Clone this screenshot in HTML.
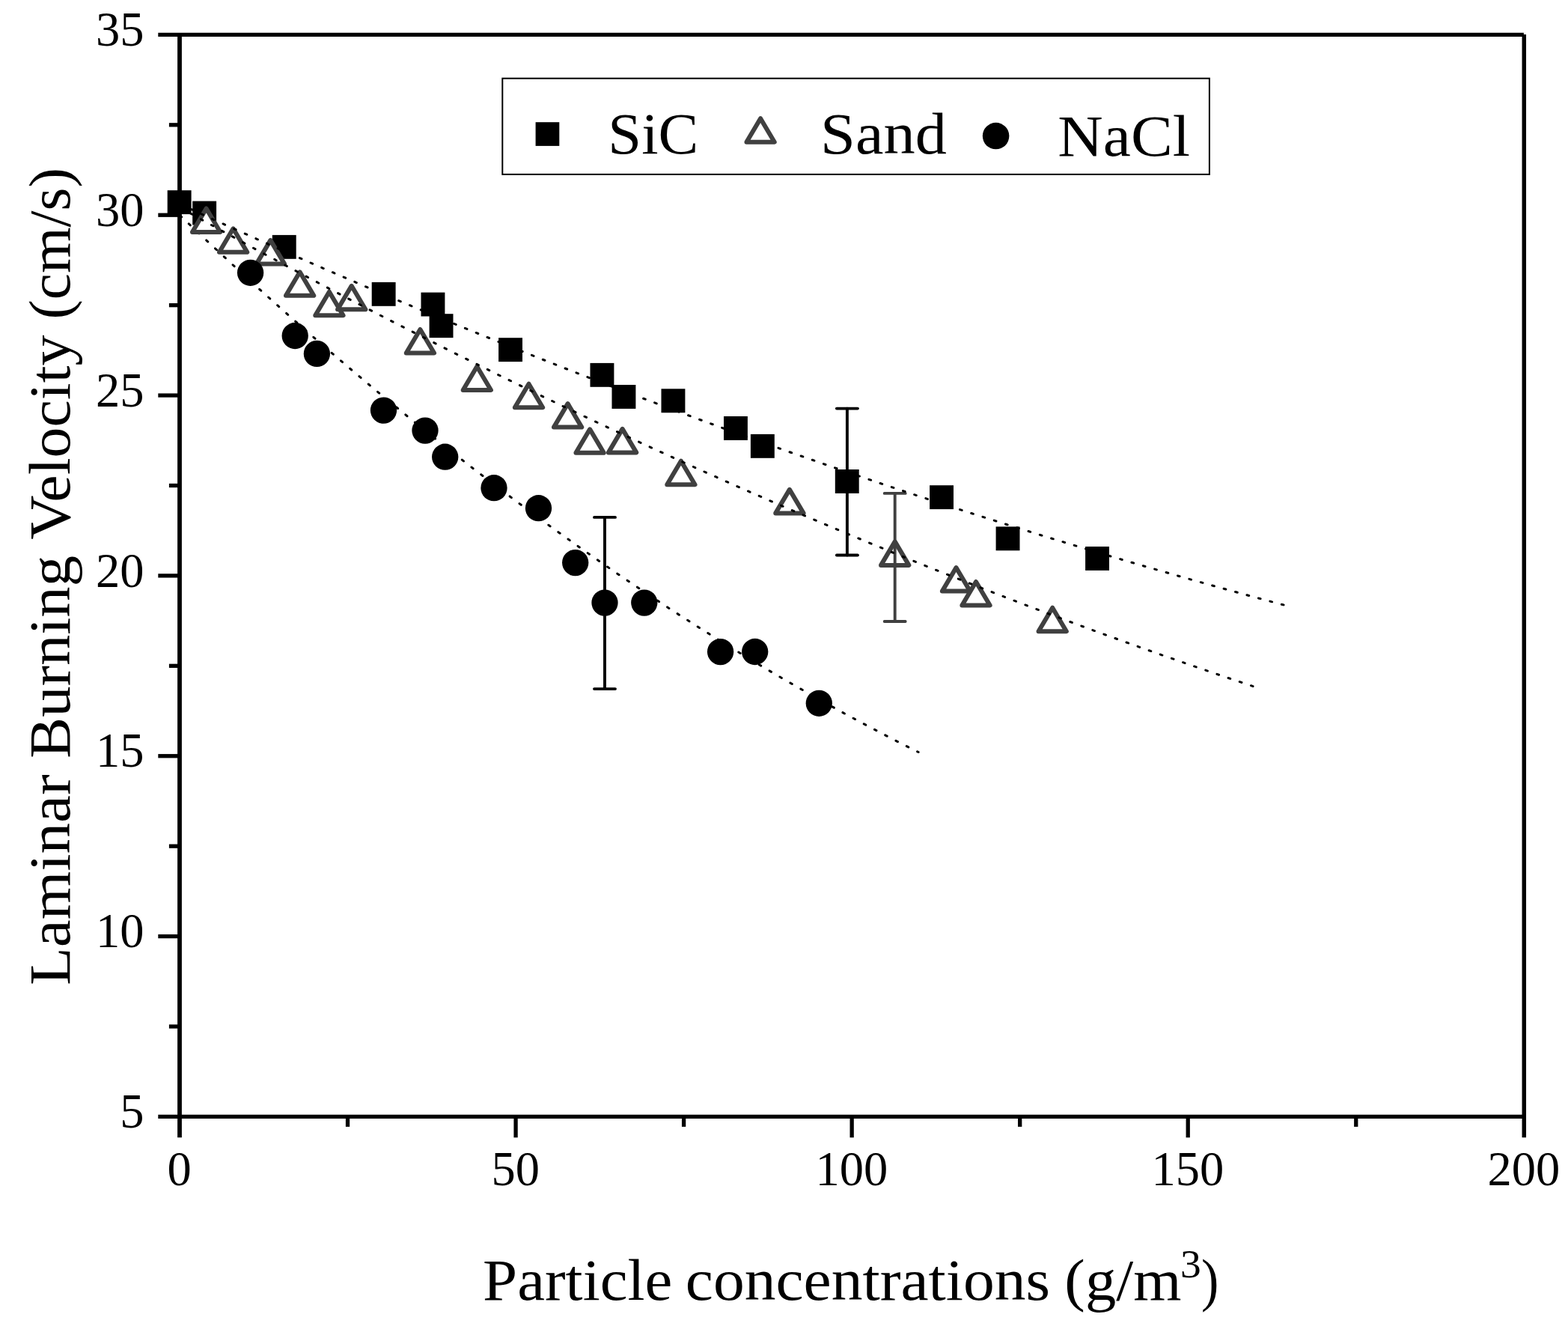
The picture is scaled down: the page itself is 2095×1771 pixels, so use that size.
<!DOCTYPE html>
<html lang="en"><head><meta charset="utf-8"><title>Laminar Burning Velocity vs Particle concentrations</title>
<style>html,body{margin:0;padding:0;background:#fff;}body{width:2095px;height:1771px;overflow:hidden;}svg{display:block;}text{font-family:"Liberation Serif","DejaVu Serif",serif;fill:#000;}</style></head><body>
<svg width="2095" height="1771" viewBox="0 0 2095 1771">
<rect width="2095" height="1771" fill="#fff"/>
<g stroke="#000" stroke-width="5.30" fill="none" stroke-linecap="butt">
<line x1="211.3" y1="46.4" x2="2035.9" y2="46.4"/>
<line x1="211.3" y1="1491.4" x2="2036.3" y2="1491.4"/>
<line x1="240.0" y1="46.4" x2="240.0" y2="1519.3" stroke-width="5.8"/>
<line x1="2036.3" y1="46.1" x2="2036.3" y2="1519.3" stroke-width="5.5"/>
<line x1="225.9" y1="1370.98" x2="240.0" y2="1370.98"/>
<line x1="211.3" y1="1250.57" x2="240.0" y2="1250.57"/>
<line x1="225.9" y1="1130.15" x2="240.0" y2="1130.15"/>
<line x1="211.3" y1="1009.73" x2="240.0" y2="1009.73"/>
<line x1="225.9" y1="889.32" x2="240.0" y2="889.32"/>
<line x1="211.3" y1="768.90" x2="240.0" y2="768.90"/>
<line x1="225.9" y1="648.48" x2="240.0" y2="648.48"/>
<line x1="211.3" y1="528.07" x2="240.0" y2="528.07"/>
<line x1="225.9" y1="407.65" x2="240.0" y2="407.65"/>
<line x1="211.3" y1="287.23" x2="240.0" y2="287.23"/>
<line x1="225.9" y1="166.82" x2="240.0" y2="166.82"/>
<line x1="464.54" y1="1491.4" x2="464.54" y2="1504.9"/>
<line x1="689.08" y1="1491.4" x2="689.08" y2="1519.3"/>
<line x1="913.61" y1="1491.4" x2="913.61" y2="1504.9"/>
<line x1="1138.15" y1="1491.4" x2="1138.15" y2="1519.3"/>
<line x1="1362.69" y1="1491.4" x2="1362.69" y2="1504.9"/>
<line x1="1587.23" y1="1491.4" x2="1587.23" y2="1519.3"/>
<line x1="1811.76" y1="1491.4" x2="1811.76" y2="1504.9"/>
</g>
<g font-size="64.5px">
<text x="192.4" y="1506.0" text-anchor="end">5</text>
<text x="192.4" y="1265.2" text-anchor="end">10</text>
<text x="192.4" y="1024.3" text-anchor="end">15</text>
<text x="192.4" y="783.5" text-anchor="end">20</text>
<text x="192.4" y="542.7" text-anchor="end">25</text>
<text x="192.4" y="301.8" text-anchor="end">30</text>
<text x="192.4" y="61.0" text-anchor="end">35</text>
<text x="239.6" y="1582.7" text-anchor="middle">0</text>
<text x="688.7" y="1582.7" text-anchor="middle">50</text>
<text x="1137.8" y="1582.7" text-anchor="middle">100</text>
<text x="1586.8" y="1582.7" text-anchor="middle">150</text>
<text x="2035.9" y="1582.7" text-anchor="middle">200</text>
</g>
<rect x="671.3" y="104.7" width="944.6" height="128.2" fill="#fff" stroke="#000" stroke-width="2"/>
<g fill="none" stroke="#000" stroke-width="3" stroke-linecap="round"><polyline points="240.0,287.2 246.2,293.1 252.4,299.0 258.6,304.8 264.8,310.7 271.0,316.5 277.2,322.3 283.5,328.1 289.7,333.9 295.9,339.7 302.1,345.4 308.3,351.2 314.5,356.9 320.7,362.6 326.9,368.3 333.1,373.9 339.3,379.6 345.5,385.2 351.7,390.8 358.0,396.4 364.2,402.0 370.4,407.5 376.6,413.1 382.8,418.6 389.0,424.1 395.2,429.6 401.4,435.0 407.6,440.5 413.8,445.9 420.0,451.3 426.2,456.7 432.4,462.1 438.7,467.5 444.9,472.8 451.1,478.1 457.3,483.4 463.5,488.7 469.7,494.0 475.9,499.2 482.1,504.5 488.3,509.7 494.5,514.9 500.7,520.1 506.9,525.2 513.2,530.4 519.4,535.5 525.6,540.6 531.8,545.7 538.0,550.8 544.2,555.9 550.4,560.9 556.6,565.9 562.8,570.9 569.0,575.9 575.2,580.9 581.4,585.9 587.6,590.8 593.9,595.7 600.1,600.6 606.3,605.5 612.5,610.4 618.7,615.2 624.9,620.0 631.1,624.9 637.3,629.6 643.5,634.4 649.7,639.2 655.9,643.9 662.1,648.6 668.3,653.4 674.6,658.0 680.8,662.7 687.0,667.4 693.2,672.0 699.4,676.6 705.6,681.2 711.8,685.8 718.0,690.4 724.2,694.9 730.4,699.4 736.6,704.0 742.8,708.5 749.1,712.9 755.3,717.4 761.5,721.8 767.7,726.2 773.9,730.7 780.1,735.0 786.3,739.4 792.5,743.8 798.7,748.1 804.9,752.4 811.1,756.7 817.3,761.0 823.5,765.3 829.8,769.5 836.0,773.7 842.2,778.0 848.4,782.1 854.6,786.3 860.8,790.5 867.0,794.6 873.2,798.7 879.4,802.8 885.6,806.9 891.8,811.0 898.0,815.1 904.3,819.1 910.5,823.1 916.7,827.1 922.9,831.1 929.1,835.1 935.3,839.0 941.5,842.9 947.7,846.8 953.9,850.7 960.1,854.6 966.3,858.5 972.5,862.3 978.7,866.1 985.0,869.9 991.2,873.7 997.4,877.5 1003.6,881.2 1009.8,885.0 1016.0,888.7 1022.2,892.4 1028.4,896.1 1034.6,899.7 1040.8,903.4 1047.0,907.0 1053.2,910.6 1059.5,914.2 1065.7,917.8 1071.9,921.3 1078.1,924.9 1084.3,928.4 1090.5,931.9 1096.7,935.4 1102.9,938.9 1109.1,942.3 1115.3,945.7 1121.5,949.2 1127.7,952.6 1133.9,955.9 1140.2,959.3 1146.4,962.6 1152.6,966.0 1158.8,969.3 1165.0,972.6 1171.2,975.8 1177.4,979.1 1183.6,982.3 1189.8,985.6 1196.0,988.8 1202.2,992.0 1208.4,995.1 1214.7,998.3 1220.9,1001.4 1227.1,1004.5" stroke-dasharray="2.8 13.282" stroke-dashoffset="15.22"/></g>
<g fill="#000"><rect x="223.7" y="254.2" width="31.9" height="31.9"/><rect x="257.2" y="268.6" width="31.9" height="31.9"/><rect x="363.8" y="313.9" width="31.9" height="31.9"/><rect x="496.7" y="376.9" width="31.9" height="31.9"/><rect x="562.5" y="390.6" width="31.9" height="31.9"/><rect x="573.6" y="419.2" width="31.9" height="31.9"/><rect x="666.1" y="451.2" width="31.9" height="31.9"/><rect x="788.5" y="484.9" width="31.9" height="31.9"/><rect x="817.5" y="514.0" width="31.9" height="31.9"/><rect x="883.5" y="519.3" width="31.9" height="31.9"/><rect x="967.0" y="556.0" width="31.9" height="31.9"/><rect x="1002.9" y="579.9" width="31.9" height="31.9"/><rect x="1115.8" y="627.0" width="31.9" height="31.9"/><rect x="1242.1" y="648.2" width="31.9" height="31.9"/><rect x="1330.6" y="703.4" width="31.9" height="31.9"/><rect x="1450.1" y="730.0" width="31.9" height="31.9"/><rect x="715.6" y="163.2" width="31.7" height="31.7"/></g>
<g fill="#fff" stroke="#404040" stroke-width="6" stroke-linejoin="round"><path d="M275.60 278.50L294.25 310.00L256.95 310.00Z"/><path d="M311.60 305.30L330.25 336.80L292.95 336.80Z"/><path d="M361.40 320.90L380.05 352.40L342.75 352.40Z"/><path d="M400.60 363.30L419.25 394.80L381.95 394.80Z"/><path d="M439.90 389.70L458.55 421.20L421.25 421.20Z"/><path d="M469.70 381.80L488.35 413.30L451.05 413.30Z"/><path d="M561.40 440.00L580.05 471.50L542.75 471.50Z"/><path d="M637.30 489.50L655.95 521.00L618.65 521.00Z"/><path d="M706.50 512.70L725.15 544.20L687.85 544.20Z"/><path d="M758.60 539.10L777.25 570.60L739.95 570.60Z"/><path d="M788.10 573.30L806.75 604.80L769.45 604.80Z"/><path d="M831.60 572.90L850.25 604.40L812.95 604.40Z"/><path d="M909.90 615.70L928.55 647.20L891.25 647.20Z"/><path d="M1054.90 653.90L1073.55 685.40L1036.25 685.40Z"/><path d="M1195.70 723.40L1214.35 754.90L1177.05 754.90Z"/><path d="M1277.50 758.10L1296.15 789.60L1258.85 789.60Z"/><path d="M1304.00 777.00L1322.65 808.50L1285.35 808.50Z"/><path d="M1406.20 811.70L1424.85 843.20L1387.55 843.20Z"/><path d="M1016.10 158.20L1034.75 189.70L997.45 189.70Z"/></g>
<g stroke="#000" stroke-width="3.9" stroke-linecap="round" fill="none"><line x1="1131.9" y1="545.6" x2="1131.9" y2="741.5"/><line x1="1117.9" y1="545.6" x2="1145.9" y2="545.6"/><line x1="1117.9" y1="741.5" x2="1145.9" y2="741.5"/></g>
<g stroke="#404040" stroke-width="3.9" stroke-linecap="round" fill="none"><line x1="1195.7" y1="658.9" x2="1195.7" y2="830.0"/><line x1="1181.7" y1="658.9" x2="1209.7" y2="658.9"/><line x1="1181.7" y1="830.0" x2="1209.7" y2="830.0"/></g>
<g stroke="#000" stroke-width="3.9" stroke-linecap="round" fill="none"><line x1="808.0" y1="690.9" x2="808.0" y2="920.1"/><line x1="794.0" y1="690.9" x2="822.0" y2="690.9"/><line x1="794.0" y1="920.1" x2="822.0" y2="920.1"/></g>
<g fill="#000"><circle cx="334.6" cy="364.3" r="17.65"/><circle cx="394.2" cy="448.5" r="17.65"/><circle cx="423.4" cy="472.4" r="17.65"/><circle cx="512.5" cy="548.1" r="17.65"/><circle cx="568.0" cy="575.1" r="17.65"/><circle cx="594.7" cy="610.2" r="17.65"/><circle cx="660.0" cy="651.7" r="17.65"/><circle cx="719.5" cy="678.7" r="17.65"/><circle cx="768.7" cy="751.6" r="17.65"/><circle cx="808.0" cy="805.1" r="17.65"/><circle cx="860.8" cy="805.1" r="17.65"/><circle cx="962.6" cy="870.6" r="17.65"/><circle cx="1008.7" cy="870.5" r="17.65"/><circle cx="1094.3" cy="939.3" r="17.65"/><circle cx="1330.6" cy="181.6" r="17.75"/></g>
<g fill="none" stroke="#000" stroke-width="3" stroke-linecap="round"><polyline points="240.0,272.5 249.3,276.8 258.6,281.0 267.9,285.3 277.1,289.5 286.4,293.7 295.7,297.9 305.0,302.1 314.3,306.3 323.6,310.5 332.9,314.6 342.2,318.8 351.4,322.9 360.7,327.1 370.0,331.2 379.3,335.3 388.6,339.4 397.9,343.5 407.2,347.5 416.4,351.6 425.7,355.7 435.0,359.7 444.3,363.7 453.6,367.7 462.9,371.7 472.2,375.7 481.4,379.7 490.7,383.7 500.0,387.6 509.3,391.6 518.6,395.5 527.9,399.5 537.2,403.4 546.5,407.3 555.7,411.2 565.0,415.0 574.3,418.9 583.6,422.8 592.9,426.6 602.2,430.5 611.5,434.3 620.7,438.1 630.0,441.9 639.3,445.7 648.6,449.5 657.9,453.2 667.2,457.0 676.5,460.7 685.8,464.5 695.0,468.2 704.3,471.9 713.6,475.6 722.9,479.3 732.2,482.9 741.5,486.6 750.8,490.3 760.0,493.9 769.3,497.5 778.6,501.2 787.9,504.8 797.2,508.4 806.5,511.9 815.8,515.5 825.1,519.1 834.3,522.6 843.6,526.2 852.9,529.7 862.2,533.2 871.5,536.7 880.8,540.2 890.1,543.7 899.3,547.2 908.6,550.6 917.9,554.1 927.2,557.5 936.5,561.0 945.8,564.4 955.1,567.8 964.3,571.2 973.6,574.5 982.9,577.9 992.2,581.3 1001.5,584.6 1010.8,588.0 1020.1,591.3 1029.4,594.6 1038.6,597.9 1047.9,601.2 1057.2,604.5 1066.5,607.7 1075.8,611.0 1085.1,614.2 1094.4,617.5 1103.6,620.7 1112.9,623.9 1122.2,627.1 1131.5,630.3 1140.8,633.5 1150.1,636.6 1159.4,639.8 1168.7,642.9 1177.9,646.1 1187.2,649.2 1196.5,652.3 1205.8,655.4 1215.1,658.5 1224.4,661.6 1233.7,664.6 1242.9,667.7 1252.2,670.7 1261.5,673.8 1270.8,676.8 1280.1,679.8 1289.4,682.8 1298.7,685.8 1308.0,688.7 1317.2,691.7 1326.5,694.6 1335.8,697.6 1345.1,700.5 1354.4,703.4 1363.7,706.3 1373.0,709.2 1382.2,712.1 1391.5,715.0 1400.8,717.8 1410.1,720.7 1419.4,723.5 1428.7,726.4 1438.0,729.2 1447.2,732.0 1456.5,734.8 1465.8,737.5 1475.1,740.3 1484.4,743.1 1493.7,745.8 1503.0,748.6 1512.3,751.3 1521.5,754.0 1530.8,756.7 1540.1,759.4 1549.4,762.1 1558.7,764.7 1568.0,767.4 1577.3,770.0 1586.5,772.7 1595.8,775.3 1605.1,777.9 1614.4,780.5 1623.7,783.1 1633.0,785.7 1642.3,788.2 1651.6,790.8 1660.8,793.3 1670.1,795.9 1679.4,798.4 1688.7,800.9 1698.0,803.4 1707.3,805.9 1716.6,808.3" stroke-dasharray="2.8 13.206" stroke-dashoffset="0.23"/><polyline points="240.0,277.0 249.0,282.0 258.1,287.0 267.1,292.0 276.1,297.0 285.2,302.0 294.2,307.0 303.2,312.0 312.3,316.9 321.3,321.9 330.3,326.8 339.4,331.7 348.4,336.6 357.4,341.5 366.5,346.3 375.5,351.2 384.5,356.1 393.5,360.9 402.6,365.7 411.6,370.5 420.6,375.3 429.7,380.1 438.7,384.9 447.7,389.6 456.8,394.4 465.8,399.1 474.8,403.8 483.9,408.5 492.9,413.2 501.9,417.9 511.0,422.6 520.0,427.2 529.0,431.9 538.1,436.5 547.1,441.1 556.1,445.7 565.2,450.3 574.2,454.9 583.2,459.5 592.3,464.0 601.3,468.6 610.3,473.1 619.4,477.6 628.4,482.1 637.4,486.6 646.5,491.1 655.5,495.5 664.5,500.0 673.6,504.4 682.6,508.8 691.6,513.2 700.6,517.6 709.7,522.0 718.7,526.4 727.7,530.8 736.8,535.1 745.8,539.5 754.8,543.8 763.9,548.1 772.9,552.4 781.9,556.7 791.0,560.9 800.0,565.2 809.0,569.4 818.1,573.7 827.1,577.9 836.1,582.1 845.2,586.3 854.2,590.5 863.2,594.6 872.3,598.8 881.3,602.9 890.3,607.1 899.4,611.2 908.4,615.3 917.4,619.4 926.5,623.5 935.5,627.5 944.5,631.6 953.6,635.6 962.6,639.6 971.6,643.7 980.7,647.7 989.7,651.6 998.7,655.6 1007.7,659.6 1016.8,663.5 1025.8,667.5 1034.8,671.4 1043.9,675.3 1052.9,679.2 1061.9,683.1 1071.0,687.0 1080.0,690.8 1089.0,694.7 1098.1,698.5 1107.1,702.3 1116.1,706.1 1125.2,709.9 1134.2,713.7 1143.2,717.5 1152.3,721.2 1161.3,725.0 1170.3,728.7 1179.4,732.4 1188.4,736.1 1197.4,739.8 1206.5,743.5 1215.5,747.2 1224.5,750.8 1233.6,754.5 1242.6,758.1 1251.6,761.7 1260.7,765.3 1269.7,768.9 1278.7,772.5 1287.8,776.1 1296.8,779.6 1305.8,783.2 1314.8,786.7 1323.9,790.2 1332.9,793.7 1341.9,797.2 1351.0,800.7 1360.0,804.1 1369.0,807.6 1378.1,811.0 1387.1,814.4 1396.1,817.9 1405.2,821.3 1414.2,824.6 1423.2,828.0 1432.3,831.4 1441.3,834.7 1450.3,838.1 1459.4,841.4 1468.4,844.7 1477.4,848.0 1486.5,851.3 1495.5,854.5 1504.5,857.8 1513.6,861.0 1522.6,864.3 1531.6,867.5 1540.7,870.7 1549.7,873.9 1558.7,877.1 1567.8,880.2 1576.8,883.4 1585.8,886.5 1594.9,889.7 1603.9,892.8 1612.9,895.9 1621.9,899.0 1631.0,902.1 1640.0,905.1 1649.0,908.2 1658.1,911.2 1667.1,914.2 1676.1,917.3" stroke-dasharray="2.8 13.214" stroke-dashoffset="15.61"/></g>
<g font-size="78px">
<text x="812.38" y="204.9" textLength="120.89" lengthAdjust="spacingAndGlyphs">SiC</text>
<text x="1096.12" y="204.9" textLength="168.87" lengthAdjust="spacingAndGlyphs">Sand</text>
<text x="1413.39" y="207.8" textLength="176.59" lengthAdjust="spacingAndGlyphs">NaCl</text>
<text y="1735.8"><tspan x="645.11" textLength="253.20" lengthAdjust="spacingAndGlyphs">Particle</tspan> <tspan x="915.79" textLength="487.34" lengthAdjust="spacingAndGlyphs">concentrations</tspan> <tspan x="1422.39" textLength="156.01" lengthAdjust="spacingAndGlyphs">(g/m</tspan><tspan x="1577.03" textLength="27.81" lengthAdjust="spacingAndGlyphs" dy="-29.8" font-size="52px">3</tspan><tspan x="1604.95" textLength="23.39" lengthAdjust="spacingAndGlyphs" dy="29.8">)</tspan></text>
<text transform="translate(93.3 1313.5) rotate(-90)" y="0"><tspan x="-2.40" textLength="281.45" lengthAdjust="spacingAndGlyphs">Laminar</tspan> <tspan x="300.52" textLength="270.99" lengthAdjust="spacingAndGlyphs">Burning</tspan> <tspan x="592.75" textLength="273.15" lengthAdjust="spacingAndGlyphs">Velocity</tspan> <tspan x="886.95" textLength="202.32" lengthAdjust="spacingAndGlyphs">(cm/s)</tspan></text>
</g>
</svg></body></html>
